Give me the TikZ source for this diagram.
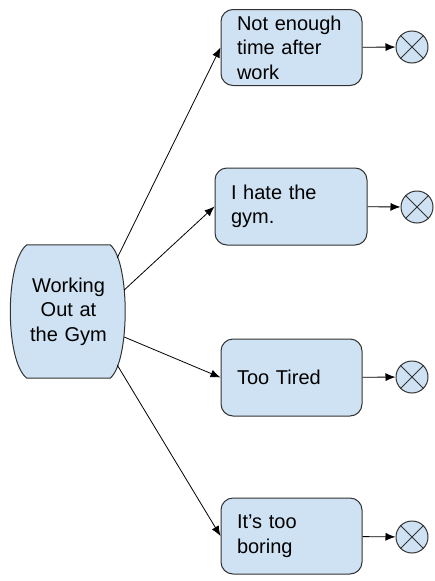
\documentclass[tikz,border=0pt]{standalone}
\usepackage{fontspec}
\setmainfont{Liberation Sans}
\usetikzlibrary{arrows.meta,backgrounds}
\definecolor{boxblue}{RGB}{207,226,243}
\definecolor{boxline}{RGB}{50,50,50}
\begin{document}
\begin{tikzpicture}[x=1pt,y=-1pt,
		box/.style={draw=boxline,line width=1pt,fill=boxblue,rounded corners=12pt,align=left,inner xsep=16pt,inner ysep=0pt,font=\fontsize{20}{24.5}\selectfont},
		stopper/.style={circle,draw=boxline,line width=1pt,fill=boxblue,minimum size=32pt,inner sep=0pt},
		arr/.style={-{Latex[length=10pt,width=8pt]},line width=.8pt}]
				\useasboundingbox (0,0) rectangle (434,581);
				\node[align=center,text width=83pt,minimum width=83pt,minimum height=133pt,inner sep=0pt,font=\fontsize{20}{24.5}\selectfont] (A) at (68.5,311.5) {Working\\Out at\\the Gym};
				\begin{scope}[on background layer]
				\fill[white] (0,0) rectangle (434,581);
				\draw[draw=boxline,line width=1pt,fill=boxblue] (A.north west) -- (A.north east)
					.. controls ([xshift=20pt,yshift=-17pt]A.north east) and ([xshift=20pt,yshift=17pt]A.south east) .. (A.south east)
					-- (A.south west)
					.. controls ([xshift=-22pt,yshift=17pt]A.south west) and ([xshift=-22pt,yshift=-17pt]A.north west) .. (A.north west) -- cycle;
				\end{scope}
				\coordinate (A1) at ([xshift=7pt,yshift=53.5pt]A.east);
				\coordinate (A2) at ([xshift=14pt,yshift=21.5pt]A.east);
				\coordinate (A3) at ([xshift=14pt,yshift=-25.5pt]A.east);
				\coordinate (A4) at ([xshift=7pt,yshift=-53.5pt]A.east);

				\node[box,text width=109pt,minimum height=76pt] (B) at (291.5,47.5) {Not enough\\time after\\work};
				\node[box,text width=120pt,minimum height=77pt] (C) at (291,206.5) {I hate the\\gym.};
				\node[box,text width=109pt,minimum height=77pt] (D) at (291.5,377.5) {Too Tired};
				\node[box,text width=109pt,minimum height=76pt] (E) at (291.5,536) {It’s too\\boring};

				\node[stopper] (B') at (412,47) {};
				\node[stopper] (C') at (417,207) {};
				\node[stopper] (D') at (412,377) {};
				\node[stopper] (E') at (412,537) {};
				\foreach \s in {B',C',D',E'}
					{\draw[boxline,line width=1pt] (\s.45) -- (\s.225);
					 \draw[boxline,line width=1pt] (\s.135) -- (\s.315);}

				\draw[arr] (A1) -- (B.west);
				\draw[arr] (A2) -- (C.west);
				\draw[arr] (A3) -- (D.west);
				\draw[arr] (A4) -- (E.west);
				\draw[arr] (B) -- (B');
				\draw[arr] (C) -- (C');
				\draw[arr] (D) -- (D');
				\draw[arr] (E) -- (E');
\end{tikzpicture}
\end{document}
